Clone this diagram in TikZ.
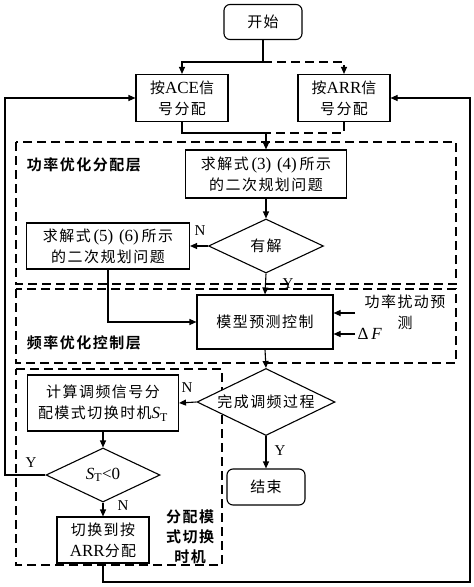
\documentclass[tikz,border=0pt]{standalone}
\usepackage{fontspec}
\setmainfont{Liberation Serif}
\newfontfamily\cjk[Scale=0.88,LetterSpace=10]{Noto Sans CJK SC}
\newfontfamily\cjkb[LetterSpace=10]{Noto Sans CJK SC Bold}
\usetikzlibrary{shapes.geometric,arrows.meta}
\begin{document}
\begin{tikzpicture}[x=1pt,y=-1pt,
  line width=1.1pt,
  >={Triangle[length=7pt,width=6pt]},
  every node/.style={font=\fontsize{17}{21}\selectfont, align=center},
  boxst/.style={draw, rectangle, inner sep=0pt, fill=white},
  roundst/.style={draw, rectangle, rounded corners=6pt, inner sep=0pt, fill=white},
  decst/.style={draw, diamond, inner sep=0pt, fill=white, aspect=2.1},
  dsh/.style={dash pattern=on 9pt off 5pt},
  region/.style={dash pattern=on 9pt off 5pt, line width=1.1pt},
  lbl/.style={font=\fontsize{15}{17}\selectfont},
  layerlbl/.style={font=\fontsize{15}{17}\selectfont\cjkb, anchor=west}
]
\useasboundingbox (0,0) rectangle (474,587);

% regions
\draw[region] (16,142) rectangle (456,284);
\draw[region] (16,289) rectangle (456,363);
\draw[region] (16,369) -- (222,369) -- (222,565) -- (16,565) -- cycle;

% nodes
\node[roundst, minimum width=78pt, minimum height=35pt] (start) at (263,22) {\cjk 开始};
\node[boxst, minimum width=92pt, minimum height=47pt] (ace) at (182,98) {{\cjk 按}ACE{\cjk 信}\\{\cjk 号分配}};
\node[boxst, minimum width=92pt, minimum height=47pt] (arr) at (344,98) {{\cjk 按}ARR{\cjk 信}\\{\cjk 号分配}};
\node[boxst, minimum width=161pt, minimum height=48pt] (q34) at (266,174) {{\cjk 求解式}\,(3)\,\,(4)\,{\cjk 所示}\\{\cjk 的二次规划问题}};
\node[decst, minimum width=115pt, minimum height=54pt] (has) at (266,246) {\cjk 有解};
\node[boxst, minimum width=163pt, minimum height=46pt] (q56) at (108,246) {{\cjk 求解式}\,(5)\,\,(6)\,{\cjk 所示}\\{\cjk 的二次规划问题}};
\node[boxst, minimum width=136pt, minimum height=54pt] (mpc) at (265,322) {\cjk 模型预测控制};
\node[decst, minimum width=138pt, minimum height=67pt] (done) at (266,402) {\cjk 完成调频过程};
\node[boxst, minimum width=151pt, minimum height=56pt] (calc) at (103,403) {{\cjk 计算调频信号分}\\{\cjk 配模式切换时机}\textit{S}\textsubscript{T}};
\node[decst, minimum width=114pt, minimum height=54pt] (st) at (103,475) {\textit{S}\textsubscript{T}<0};
\node[boxst, minimum width=92pt, minimum height=46pt] (sw) at (103,540) {{\cjk 切换到按}\\ARR{\cjk 分配}};
\node[roundst, minimum width=78pt, minimum height=36pt] (end) at (266,487) {\cjk 结束};

% layer labels
\node[layerlbl] (l1) at (23,165) {功率优化分配层};
\node[layerlbl] (l2) at (23,343) {频率优化控制层};
\node[font=\fontsize{15}{20}\selectfont\cjkb] (l3) at (190,537) {分配模\\式切换\\时机};

% inputs
\node (dist) at (405,312) {{\cjk 功率扰动预}\\{\cjk 测}};
\node[anchor=west, inner sep=0pt] (df) at (357,334) {Δ\,\textit{F}};
\coordinate (in1) at (355,313);
\coordinate (in2) at (355,334);
\draw[->] (in1) -- (in1 -| mpc.east);
\draw[->] (in2) -- (in2 -| mpc.east);

% connectors
\coordinate (j1) at (263,62);
\draw (start.south) -- (j1);
\draw[->] (j1) -| (ace.north);
\draw[->, dsh] (j1) -| (arr.north);
\coordinate (j2) at (266,133);
\draw (ace.south) |- (j2);
\draw[dsh] (arr.south) |- (j2);
\draw[->] (j2) -- (q34.north);
\draw[->] (q34.south) -- (has.north);
\draw[->] (has.west) -- (q56.east);
\node[lbl] (nlab1) at (200,231) {N};
\draw[->] (has.south) -- (mpc.north);
\node[lbl] (ylab1) at (288,284) {Y};
\draw[->] (q56.south) |- (mpc.west);
\draw[->] (mpc.south) -- (done.north);
\draw[->] (done.west) -- (calc.east);
\node[lbl] (nlab2) at (187,388) {N};
\draw[->] (done.south) -- (end.north);
\node[lbl] (ylab2) at (280,451) {Y};
\draw[->] (calc.south) -- (st.north);
\coordinate (fbl) at (5,475);
\draw[->] (st.west) -- (fbl) |- (ace.west);
\node[lbl] (ylab3) at (31,463) {Y};
\draw[->] (st.south) -- (sw.north);
\node[lbl] (nlab3) at (123,506) {N};
\coordinate (fb1) at (103,582);
\coordinate (fb2) at (470,582);
\draw[->] (sw.south) -- (fb1) -- (fb2) |- (arr.east);
\end{tikzpicture}
\end{document}
